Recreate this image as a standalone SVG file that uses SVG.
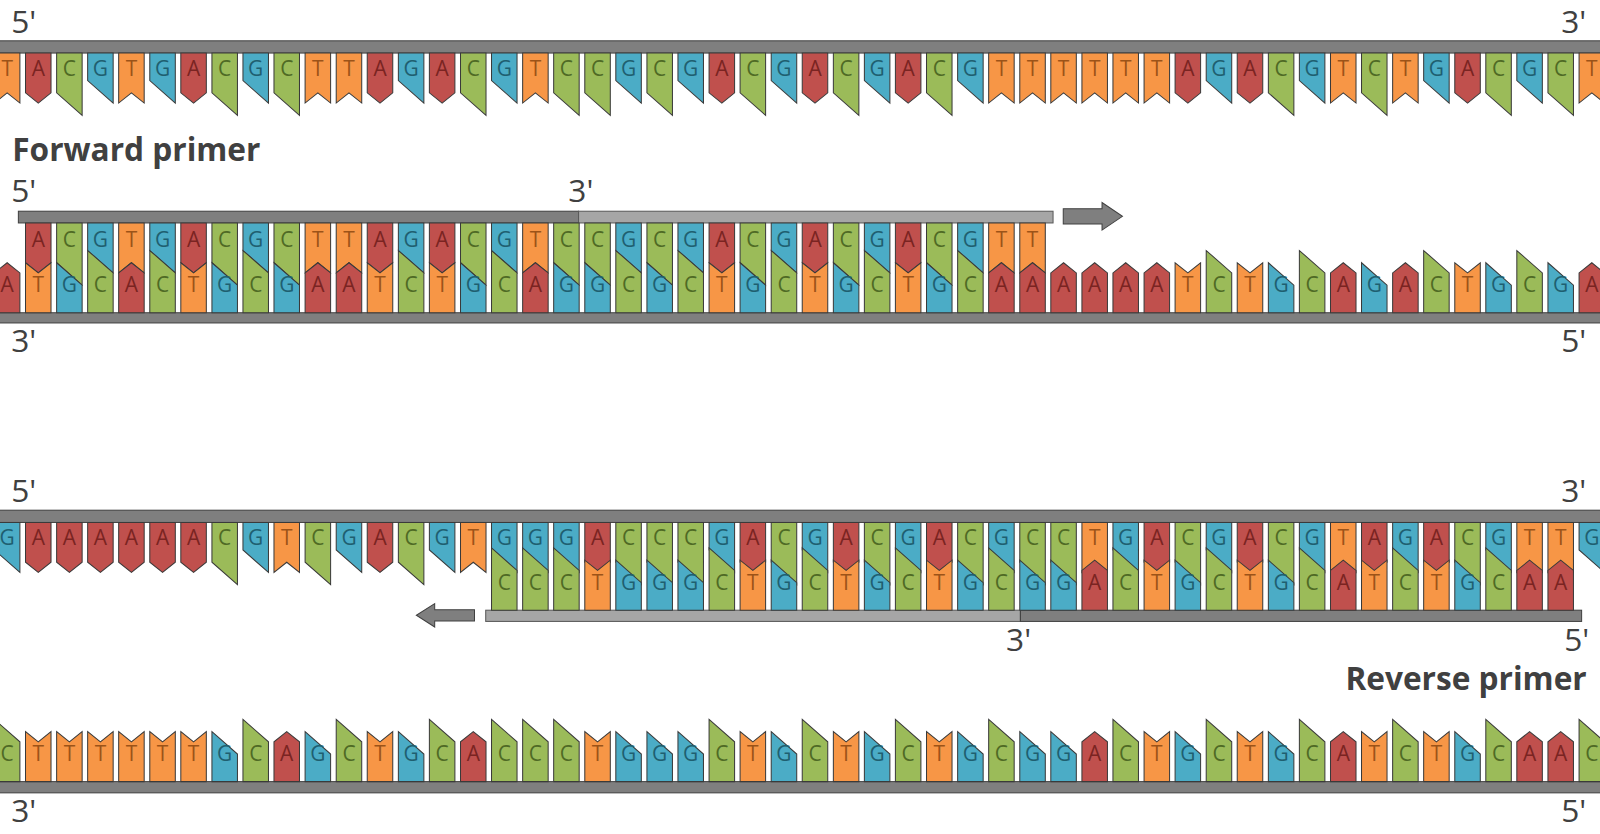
<svg xmlns="http://www.w3.org/2000/svg" width="1600" height="834" viewBox="0 0 1600 834">
<style>
.bb{fill:#7f7f7f;stroke:#404040;stroke-width:1}
.bl{fill:#a6a6a6;stroke:#595959;stroke-width:1}
.sA{fill:#c0504d}.sT{fill:#f79646}.sG{fill:#4bacc6}.sC{fill:#9bbb59}
path.s{stroke:#3a3a3a;stroke-width:1;stroke-linejoin:miter}
text{font-family:"Open Sans","Liberation Sans",sans-serif}
.L text{font-size:20.5px;text-anchor:middle}
.a{fill:#7a2422}.t{fill:#9c5318}.g{fill:#1f5f70}.c{fill:#4f6a25}
.lab{font-size:31px;fill:#404040}
.ttl{font-size:31px;font-weight:bold;fill:#404040}
.arr{fill:#7f7f7f;stroke:#404040;stroke-width:1}
</style>
<defs>
<path id="tA" class="s sA" d="M-12.5,0H12.5V39L0,49L-12.5,39Z"/>
<path id="tT" class="s sT" d="M-12.5,0H12.5V49L0,39L-12.5,49Z"/>
<path id="tG" class="s sG" d="M-12.5,0H12.5V49L-12.5,27Z"/>
<path id="tC" class="s sC" d="M-12.5,0H12.5V61L-12.5,39Z"/>
<path id="bA" class="s sA" d="M-12.5,0H12.5V-39L0,-49L-12.5,-39Z"/>
<path id="bT" class="s sT" d="M-12.5,0H12.5V-49L0,-39L-12.5,-49Z"/>
<path id="bG" class="s sG" d="M-12.5,0H12.5V-27L-12.5,-49Z"/>
<path id="bC" class="s sC" d="M-12.5,0H12.5V-39L-12.5,-61Z"/>
</defs>
<g transform="scale(1.0204)">
<g id="row1-top">
<rect class="bb" x="-2" y="40" width="1604" height="12"/>
<g transform="translate(0,52)">
<use href="#tT" x="7"/><use href="#tA" x="37.5"/><use href="#tC" x="68"/><use href="#tG" x="98.4"/><use href="#tT" x="128.8"/><use href="#tG" x="159.3"/><use href="#tA" x="189.7"/><use href="#tC" x="220.2"/><use href="#tG" x="250.6"/><use href="#tC" x="281"/><use href="#tT" x="311.5"/><use href="#tT" x="342"/><use href="#tA" x="372.4"/><use href="#tG" x="402.9"/><use href="#tA" x="433.3"/><use href="#tC" x="463.8"/><use href="#tG" x="494.2"/><use href="#tT" x="524.7"/><use href="#tC" x="555.1"/><use href="#tC" x="585.6"/><use href="#tG" x="616"/><use href="#tC" x="646.5"/><use href="#tG" x="676.9"/><use href="#tA" x="707.4"/><use href="#tC" x="737.8"/><use href="#tG" x="768.3"/><use href="#tA" x="798.7"/><use href="#tC" x="829.2"/><use href="#tG" x="859.6"/><use href="#tA" x="890"/><use href="#tC" x="920.5"/><use href="#tG" x="951"/><use href="#tT" x="981.4"/><use href="#tT" x="1011.9"/><use href="#tT" x="1042.3"/><use href="#tT" x="1072.8"/><use href="#tT" x="1103.2"/><use href="#tT" x="1133.7"/><use href="#tA" x="1164.1"/><use href="#tG" x="1194.6"/><use href="#tA" x="1225"/><use href="#tC" x="1255.5"/><use href="#tG" x="1285.9"/><use href="#tT" x="1316.4"/><use href="#tC" x="1346.8"/><use href="#tT" x="1377.3"/><use href="#tG" x="1407.7"/><use href="#tA" x="1438.2"/><use href="#tC" x="1468.6"/><use href="#tG" x="1499"/><use href="#tC" x="1529.5"/><use href="#tT" x="1560"/>
</g>
<g class="L" transform="translate(0,74)">
<text class="t" x="7">T</text><text class="a" x="37.5">A</text><text class="c" x="68">C</text><text class="g" x="98.4">G</text><text class="t" x="128.8">T</text><text class="g" x="159.3">G</text><text class="a" x="189.7">A</text><text class="c" x="220.2">C</text><text class="g" x="250.6">G</text><text class="c" x="281">C</text><text class="t" x="311.5">T</text><text class="t" x="342">T</text><text class="a" x="372.4">A</text><text class="g" x="402.9">G</text><text class="a" x="433.3">A</text><text class="c" x="463.8">C</text><text class="g" x="494.2">G</text><text class="t" x="524.7">T</text><text class="c" x="555.1">C</text><text class="c" x="585.6">C</text><text class="g" x="616">G</text><text class="c" x="646.5">C</text><text class="g" x="676.9">G</text><text class="a" x="707.4">A</text><text class="c" x="737.8">C</text><text class="g" x="768.3">G</text><text class="a" x="798.7">A</text><text class="c" x="829.2">C</text><text class="g" x="859.6">G</text><text class="a" x="890">A</text><text class="c" x="920.5">C</text><text class="g" x="951">G</text><text class="t" x="981.4">T</text><text class="t" x="1011.9">T</text><text class="t" x="1042.3">T</text><text class="t" x="1072.8">T</text><text class="t" x="1103.2">T</text><text class="t" x="1133.7">T</text><text class="a" x="1164.1">A</text><text class="g" x="1194.6">G</text><text class="a" x="1225">A</text><text class="c" x="1255.5">C</text><text class="g" x="1285.9">G</text><text class="t" x="1316.4">T</text><text class="c" x="1346.8">C</text><text class="t" x="1377.3">T</text><text class="g" x="1407.7">G</text><text class="a" x="1438.2">A</text><text class="c" x="1468.6">C</text><text class="g" x="1499">G</text><text class="c" x="1529.5">C</text><text class="t" x="1560">T</text>
</g>
<text class="lab" x="11" y="32">5'</text><text class="lab" x="1530" y="32">3'</text>
</g>

<g id="forward-primer">
<text class="ttl" x="12" y="158">Forward primer</text>
<rect class="bb" x="18" y="207" width="549" height="11.5"/>
<rect class="bl" x="567" y="207" width="465" height="11.5"/>
<g transform="translate(0,218.5)">
<use href="#tA" x="37.5"/><use href="#tC" x="68"/><use href="#tG" x="98.4"/><use href="#tT" x="128.8"/><use href="#tG" x="159.3"/><use href="#tA" x="189.7"/><use href="#tC" x="220.2"/><use href="#tG" x="250.6"/><use href="#tC" x="281"/><use href="#tT" x="311.5"/><use href="#tT" x="342"/><use href="#tA" x="372.4"/><use href="#tG" x="402.9"/><use href="#tA" x="433.3"/><use href="#tC" x="463.8"/><use href="#tG" x="494.2"/><use href="#tT" x="524.7"/><use href="#tC" x="555.1"/><use href="#tC" x="585.6"/><use href="#tG" x="616"/><use href="#tC" x="646.5"/><use href="#tG" x="676.9"/><use href="#tA" x="707.4"/><use href="#tC" x="737.8"/><use href="#tG" x="768.3"/><use href="#tA" x="798.7"/><use href="#tC" x="829.2"/><use href="#tG" x="859.6"/><use href="#tA" x="890"/><use href="#tC" x="920.5"/><use href="#tG" x="951"/><use href="#tT" x="981.4"/><use href="#tT" x="1011.9"/>
</g>
<g class="L" transform="translate(0,242)">
<text class="a" x="37.5">A</text><text class="c" x="68">C</text><text class="g" x="98.4">G</text><text class="t" x="128.8">T</text><text class="g" x="159.3">G</text><text class="a" x="189.7">A</text><text class="c" x="220.2">C</text><text class="g" x="250.6">G</text><text class="c" x="281">C</text><text class="t" x="311.5">T</text><text class="t" x="342">T</text><text class="a" x="372.4">A</text><text class="g" x="402.9">G</text><text class="a" x="433.3">A</text><text class="c" x="463.8">C</text><text class="g" x="494.2">G</text><text class="t" x="524.7">T</text><text class="c" x="555.1">C</text><text class="c" x="585.6">C</text><text class="g" x="616">G</text><text class="c" x="646.5">C</text><text class="g" x="676.9">G</text><text class="a" x="707.4">A</text><text class="c" x="737.8">C</text><text class="g" x="768.3">G</text><text class="a" x="798.7">A</text><text class="c" x="829.2">C</text><text class="g" x="859.6">G</text><text class="a" x="890">A</text><text class="c" x="920.5">C</text><text class="g" x="951">G</text><text class="t" x="981.4">T</text><text class="t" x="1011.9">T</text>
</g>
<text class="lab" x="11" y="198">5'</text><text class="lab" x="557" y="198">3'</text>
</g>

<g id="row2-bottom">
<rect class="bb" x="-2" y="306.5" width="1604" height="10"/>
<g transform="translate(0,306.5)">
<use href="#bA" x="7"/><use href="#bT" x="37.5"/><use href="#bG" x="68"/><use href="#bC" x="98.4"/><use href="#bA" x="128.8"/><use href="#bC" x="159.3"/><use href="#bT" x="189.7"/><use href="#bG" x="220.2"/><use href="#bC" x="250.6"/><use href="#bG" x="281"/><use href="#bA" x="311.5"/><use href="#bA" x="342"/><use href="#bT" x="372.4"/><use href="#bC" x="402.9"/><use href="#bT" x="433.3"/><use href="#bG" x="463.8"/><use href="#bC" x="494.2"/><use href="#bA" x="524.7"/><use href="#bG" x="555.1"/><use href="#bG" x="585.6"/><use href="#bC" x="616"/><use href="#bG" x="646.5"/><use href="#bC" x="676.9"/><use href="#bT" x="707.4"/><use href="#bG" x="737.8"/><use href="#bC" x="768.3"/><use href="#bT" x="798.7"/><use href="#bG" x="829.2"/><use href="#bC" x="859.6"/><use href="#bT" x="890"/><use href="#bG" x="920.5"/><use href="#bC" x="951"/><use href="#bA" x="981.4"/><use href="#bA" x="1011.9"/><use href="#bA" x="1042.3"/><use href="#bA" x="1072.8"/><use href="#bA" x="1103.2"/><use href="#bA" x="1133.7"/><use href="#bT" x="1164.1"/><use href="#bC" x="1194.6"/><use href="#bT" x="1225"/><use href="#bG" x="1255.5"/><use href="#bC" x="1285.9"/><use href="#bA" x="1316.4"/><use href="#bG" x="1346.8"/><use href="#bA" x="1377.3"/><use href="#bC" x="1407.7"/><use href="#bT" x="1438.2"/><use href="#bG" x="1468.6"/><use href="#bC" x="1499"/><use href="#bG" x="1529.5"/><use href="#bA" x="1560"/>
</g>
<g class="L" transform="translate(0,286.5)">
<text class="a" x="7">A</text><text class="t" x="37.5">T</text><text class="g" x="68">G</text><text class="c" x="98.4">C</text><text class="a" x="128.8">A</text><text class="c" x="159.3">C</text><text class="t" x="189.7">T</text><text class="g" x="220.2">G</text><text class="c" x="250.6">C</text><text class="g" x="281">G</text><text class="a" x="311.5">A</text><text class="a" x="342">A</text><text class="t" x="372.4">T</text><text class="c" x="402.9">C</text><text class="t" x="433.3">T</text><text class="g" x="463.8">G</text><text class="c" x="494.2">C</text><text class="a" x="524.7">A</text><text class="g" x="555.1">G</text><text class="g" x="585.6">G</text><text class="c" x="616">C</text><text class="g" x="646.5">G</text><text class="c" x="676.9">C</text><text class="t" x="707.4">T</text><text class="g" x="737.8">G</text><text class="c" x="768.3">C</text><text class="t" x="798.7">T</text><text class="g" x="829.2">G</text><text class="c" x="859.6">C</text><text class="t" x="890">T</text><text class="g" x="920.5">G</text><text class="c" x="951">C</text><text class="a" x="981.4">A</text><text class="a" x="1011.9">A</text><text class="a" x="1042.3">A</text><text class="a" x="1072.8">A</text><text class="a" x="1103.2">A</text><text class="a" x="1133.7">A</text><text class="t" x="1164.1">T</text><text class="c" x="1194.6">C</text><text class="t" x="1225">T</text><text class="g" x="1255.5">G</text><text class="c" x="1285.9">C</text><text class="a" x="1316.4">A</text><text class="g" x="1346.8">G</text><text class="a" x="1377.3">A</text><text class="c" x="1407.7">C</text><text class="t" x="1438.2">T</text><text class="g" x="1468.6">G</text><text class="c" x="1499">C</text><text class="g" x="1529.5">G</text><text class="a" x="1560">A</text>
</g>
<text class="lab" x="11" y="345">3'</text><text class="lab" x="1530" y="345">5'</text>
</g>

<g id="row3-top">
<rect class="bb" x="-2" y="500" width="1604" height="12"/>
<g transform="translate(0,512)">
<use href="#tG" x="7"/><use href="#tA" x="37.5"/><use href="#tA" x="68"/><use href="#tA" x="98.4"/><use href="#tA" x="128.8"/><use href="#tA" x="159.3"/><use href="#tA" x="189.7"/><use href="#tC" x="220.2"/><use href="#tG" x="250.6"/><use href="#tT" x="281"/><use href="#tC" x="311.5"/><use href="#tG" x="342"/><use href="#tA" x="372.4"/><use href="#tC" x="402.9"/><use href="#tG" x="433.3"/><use href="#tT" x="463.8"/><use href="#tG" x="494.2"/><use href="#tG" x="524.7"/><use href="#tG" x="555.1"/><use href="#tA" x="585.6"/><use href="#tC" x="616"/><use href="#tC" x="646.5"/><use href="#tC" x="676.9"/><use href="#tG" x="707.4"/><use href="#tA" x="737.8"/><use href="#tC" x="768.3"/><use href="#tG" x="798.7"/><use href="#tA" x="829.2"/><use href="#tC" x="859.6"/><use href="#tG" x="890"/><use href="#tA" x="920.5"/><use href="#tC" x="951"/><use href="#tG" x="981.4"/><use href="#tC" x="1011.9"/><use href="#tC" x="1042.3"/><use href="#tT" x="1072.8"/><use href="#tG" x="1103.2"/><use href="#tA" x="1133.7"/><use href="#tC" x="1164.1"/><use href="#tG" x="1194.6"/><use href="#tA" x="1225"/><use href="#tC" x="1255.5"/><use href="#tG" x="1285.9"/><use href="#tT" x="1316.4"/><use href="#tA" x="1346.8"/><use href="#tG" x="1377.3"/><use href="#tA" x="1407.7"/><use href="#tC" x="1438.2"/><use href="#tG" x="1468.6"/><use href="#tT" x="1499"/><use href="#tT" x="1529.5"/><use href="#tG" x="1560"/>
</g>
<g class="L" transform="translate(0,534)">
<text class="g" x="7">G</text><text class="a" x="37.5">A</text><text class="a" x="68">A</text><text class="a" x="98.4">A</text><text class="a" x="128.8">A</text><text class="a" x="159.3">A</text><text class="a" x="189.7">A</text><text class="c" x="220.2">C</text><text class="g" x="250.6">G</text><text class="t" x="281">T</text><text class="c" x="311.5">C</text><text class="g" x="342">G</text><text class="a" x="372.4">A</text><text class="c" x="402.9">C</text><text class="g" x="433.3">G</text><text class="t" x="463.8">T</text><text class="g" x="494.2">G</text><text class="g" x="524.7">G</text><text class="g" x="555.1">G</text><text class="a" x="585.6">A</text><text class="c" x="616">C</text><text class="c" x="646.5">C</text><text class="c" x="676.9">C</text><text class="g" x="707.4">G</text><text class="a" x="737.8">A</text><text class="c" x="768.3">C</text><text class="g" x="798.7">G</text><text class="a" x="829.2">A</text><text class="c" x="859.6">C</text><text class="g" x="890">G</text><text class="a" x="920.5">A</text><text class="c" x="951">C</text><text class="g" x="981.4">G</text><text class="c" x="1011.9">C</text><text class="c" x="1042.3">C</text><text class="t" x="1072.8">T</text><text class="g" x="1103.2">G</text><text class="a" x="1133.7">A</text><text class="c" x="1164.1">C</text><text class="g" x="1194.6">G</text><text class="a" x="1225">A</text><text class="c" x="1255.5">C</text><text class="g" x="1285.9">G</text><text class="t" x="1316.4">T</text><text class="a" x="1346.8">A</text><text class="g" x="1377.3">G</text><text class="a" x="1407.7">A</text><text class="c" x="1438.2">C</text><text class="g" x="1468.6">G</text><text class="t" x="1499">T</text><text class="t" x="1529.5">T</text><text class="g" x="1560">G</text>
</g>
<text class="lab" x="11" y="492">5'</text><text class="lab" x="1530" y="492">3'</text>
</g>

<g id="reverse-primer">
<rect class="bl" x="476" y="598" width="524" height="11"/>
<rect class="bb" x="1000" y="598" width="550" height="11"/>
<g transform="translate(0,598)">
<use href="#bC" x="494.2"/><use href="#bC" x="524.7"/><use href="#bC" x="555.1"/><use href="#bT" x="585.6"/><use href="#bG" x="616"/><use href="#bG" x="646.5"/><use href="#bG" x="676.9"/><use href="#bC" x="707.4"/><use href="#bT" x="737.8"/><use href="#bG" x="768.3"/><use href="#bC" x="798.7"/><use href="#bT" x="829.2"/><use href="#bG" x="859.6"/><use href="#bC" x="890"/><use href="#bT" x="920.5"/><use href="#bG" x="951"/><use href="#bC" x="981.4"/><use href="#bG" x="1011.9"/><use href="#bG" x="1042.3"/><use href="#bA" x="1072.8"/><use href="#bC" x="1103.2"/><use href="#bT" x="1133.7"/><use href="#bG" x="1164.1"/><use href="#bC" x="1194.6"/><use href="#bT" x="1225"/><use href="#bG" x="1255.5"/><use href="#bC" x="1285.9"/><use href="#bA" x="1316.4"/><use href="#bT" x="1346.8"/><use href="#bC" x="1377.3"/><use href="#bT" x="1407.7"/><use href="#bG" x="1438.2"/><use href="#bC" x="1468.6"/><use href="#bA" x="1499"/><use href="#bA" x="1529.5"/>
</g>
<g class="L" transform="translate(0,578)">
<text class="c" x="494.2">C</text><text class="c" x="524.7">C</text><text class="c" x="555.1">C</text><text class="t" x="585.6">T</text><text class="g" x="616">G</text><text class="g" x="646.5">G</text><text class="g" x="676.9">G</text><text class="c" x="707.4">C</text><text class="t" x="737.8">T</text><text class="g" x="768.3">G</text><text class="c" x="798.7">C</text><text class="t" x="829.2">T</text><text class="g" x="859.6">G</text><text class="c" x="890">C</text><text class="t" x="920.5">T</text><text class="g" x="951">G</text><text class="c" x="981.4">C</text><text class="g" x="1011.9">G</text><text class="g" x="1042.3">G</text><text class="a" x="1072.8">A</text><text class="c" x="1103.2">C</text><text class="t" x="1133.7">T</text><text class="g" x="1164.1">G</text><text class="c" x="1194.6">C</text><text class="t" x="1225">T</text><text class="g" x="1255.5">G</text><text class="c" x="1285.9">C</text><text class="a" x="1316.4">A</text><text class="t" x="1346.8">T</text><text class="c" x="1377.3">C</text><text class="t" x="1407.7">T</text><text class="g" x="1438.2">G</text><text class="c" x="1468.6">C</text><text class="a" x="1499">A</text><text class="a" x="1529.5">A</text>
</g>
<text class="lab" x="986" y="638">3'</text><text class="lab" x="1533" y="638">5'</text>
<text class="ttl" x="1555" y="676" text-anchor="end">Reverse primer</text>
</g>

<g id="row4-bottom">
<rect class="bb" x="-2" y="766" width="1604" height="11"/>
<g transform="translate(0,766)">
<use href="#bC" x="7"/><use href="#bT" x="37.5"/><use href="#bT" x="68"/><use href="#bT" x="98.4"/><use href="#bT" x="128.8"/><use href="#bT" x="159.3"/><use href="#bT" x="189.7"/><use href="#bG" x="220.2"/><use href="#bC" x="250.6"/><use href="#bA" x="281"/><use href="#bG" x="311.5"/><use href="#bC" x="342"/><use href="#bT" x="372.4"/><use href="#bG" x="402.9"/><use href="#bC" x="433.3"/><use href="#bA" x="463.8"/><use href="#bC" x="494.2"/><use href="#bC" x="524.7"/><use href="#bC" x="555.1"/><use href="#bT" x="585.6"/><use href="#bG" x="616"/><use href="#bG" x="646.5"/><use href="#bG" x="676.9"/><use href="#bC" x="707.4"/><use href="#bT" x="737.8"/><use href="#bG" x="768.3"/><use href="#bC" x="798.7"/><use href="#bT" x="829.2"/><use href="#bG" x="859.6"/><use href="#bC" x="890"/><use href="#bT" x="920.5"/><use href="#bG" x="951"/><use href="#bC" x="981.4"/><use href="#bG" x="1011.9"/><use href="#bG" x="1042.3"/><use href="#bA" x="1072.8"/><use href="#bC" x="1103.2"/><use href="#bT" x="1133.7"/><use href="#bG" x="1164.1"/><use href="#bC" x="1194.6"/><use href="#bT" x="1225"/><use href="#bG" x="1255.5"/><use href="#bC" x="1285.9"/><use href="#bA" x="1316.4"/><use href="#bT" x="1346.8"/><use href="#bC" x="1377.3"/><use href="#bT" x="1407.7"/><use href="#bG" x="1438.2"/><use href="#bC" x="1468.6"/><use href="#bA" x="1499"/><use href="#bA" x="1529.5"/><use href="#bC" x="1560"/>
</g>
<g class="L" transform="translate(0,746)">
<text class="c" x="7">C</text><text class="t" x="37.5">T</text><text class="t" x="68">T</text><text class="t" x="98.4">T</text><text class="t" x="128.8">T</text><text class="t" x="159.3">T</text><text class="t" x="189.7">T</text><text class="g" x="220.2">G</text><text class="c" x="250.6">C</text><text class="a" x="281">A</text><text class="g" x="311.5">G</text><text class="c" x="342">C</text><text class="t" x="372.4">T</text><text class="g" x="402.9">G</text><text class="c" x="433.3">C</text><text class="a" x="463.8">A</text><text class="c" x="494.2">C</text><text class="c" x="524.7">C</text><text class="c" x="555.1">C</text><text class="t" x="585.6">T</text><text class="g" x="616">G</text><text class="g" x="646.5">G</text><text class="g" x="676.9">G</text><text class="c" x="707.4">C</text><text class="t" x="737.8">T</text><text class="g" x="768.3">G</text><text class="c" x="798.7">C</text><text class="t" x="829.2">T</text><text class="g" x="859.6">G</text><text class="c" x="890">C</text><text class="t" x="920.5">T</text><text class="g" x="951">G</text><text class="c" x="981.4">C</text><text class="g" x="1011.9">G</text><text class="g" x="1042.3">G</text><text class="a" x="1072.8">A</text><text class="c" x="1103.2">C</text><text class="t" x="1133.7">T</text><text class="g" x="1164.1">G</text><text class="c" x="1194.6">C</text><text class="t" x="1225">T</text><text class="g" x="1255.5">G</text><text class="c" x="1285.9">C</text><text class="a" x="1316.4">A</text><text class="t" x="1346.8">T</text><text class="c" x="1377.3">C</text><text class="t" x="1407.7">T</text><text class="g" x="1438.2">G</text><text class="c" x="1468.6">C</text><text class="a" x="1499">A</text><text class="a" x="1529.5">A</text><text class="c" x="1560">C</text>
</g>
<text class="lab" x="11" y="806">3'</text><text class="lab" x="1530" y="806">5'</text>
</g>

<g id="connectors">
<path class="arr" d="M1042,204.5H1080V198.5L1100,212L1080,225.5V219.5H1042Z"/>
<path class="arr" d="M465,597.5H426V591.5L408,603L426,614.5V608.5H465Z"/>
</g>
</g>
</svg>
